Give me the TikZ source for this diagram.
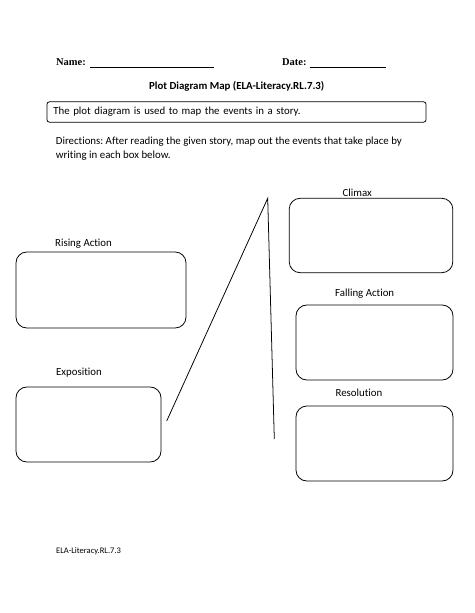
\documentclass[tikz,border=0pt]{standalone}
\usepackage{fontspec}
\setmainfont{Carlito}[Ligatures=NoCommon]
\newfontfamily\timesfont{Liberation Serif}
\frenchspacing

\begin{document}
\begin{tikzpicture}
[x=1.2911pt,y=-1.2911pt,
 plotbox/.style={draw,black,line width=1pt,rounded corners=14pt,inner sep=0pt},
 boxlabel/.style={black,inner sep=0pt,font=\fontsize{14}{17}\selectfont},
 headtext/.style={black,inner sep=0pt,font=\timesfont\bfseries\fontsize{13.5}{16}\selectfont},
 headline/.style={black,line width=0.8pt},
 plotline/.style={black,line width=1pt}]

\useasboundingbox[fill=white] (0,0) rectangle (474,613);

% name and date
\node[headtext,anchor=base west](name) at (56,65.7){Name:};
\coordinate (namestart) at (90,67);
\coordinate (nameend) at (214,67);
\draw[headline] (namestart) -- (nameend);
\node[headtext,anchor=base west](date) at (282,65.7){Date:};
\coordinate (datestart) at (309.5,67);
\coordinate (dateend) at (385.5,67);
\draw[headline] (datestart) -- (dateend);

% title
\node[boxlabel,anchor=base,font=\bfseries\fontsize{14}{17}\selectfont](title) at (236.7,89){Plot Diagram Map (ELA-Literacy.RL.7.3)};

% intro box
\node[plotbox,rounded corners=3pt,minimum width=489.3pt,minimum height=26.2pt,
      text width=473.1pt,align=left,inner xsep=8.1pt,font=\fontsize{14}{17}\selectfont](intro) at (236.5,112){The plot diagram is used to map the events in a story.};

% directions
\node[boxlabel,anchor=base west,align=left,font=\fontsize{14}{18}\selectfont](directions) at (55.7,158.6)
  {Directions: After reading the given story, map out the events that take place by\\writing in each box below.};

% left boxes
\node[boxlabel,anchor=base west](risinglabel) at (55,246.6){Rising Action};
\node[plotbox,minimum width=219.5pt,minimum height=98.1pt](rising) at (101,290){};
\node[boxlabel,anchor=base west](expolabel) at (56,375.6){Exposition};
\node[plotbox,minimum width=187.2pt,minimum height=96.8pt](expo) at (88.5,424.5){};

% plot line
\coordinate (start) at (166.7,421);
\coordinate (apex) at (267.7,198.3);
\coordinate (finish) at (274.3,439);
\draw[plotline] (start) -- (apex) -- (finish);

% right boxes
\node[boxlabel,anchor=base](climaxlabel) at (357.2,196.7){Climax};
\node[plotbox,minimum width=211.2pt,minimum height=96pt](climax) at (371,235.5){};
\node[boxlabel,anchor=base](fallinglabel) at (364.7,296.7){Falling Action};
\node[plotbox,minimum width=202.7pt,minimum height=96.8pt](falling) at (374.5,342.5){};
\node[boxlabel,anchor=base](resolabel) at (359,396.6){Resolution};
\node[plotbox,minimum width=202.7pt,minimum height=96.8pt](reso) at (374.5,443.5){};

% footer
\node[boxlabel,anchor=base west,font=\fontsize{11}{13}\selectfont](footer) at (56,553.5){ELA-Literacy.RL.7.3};

\end{tikzpicture}
\end{document}
